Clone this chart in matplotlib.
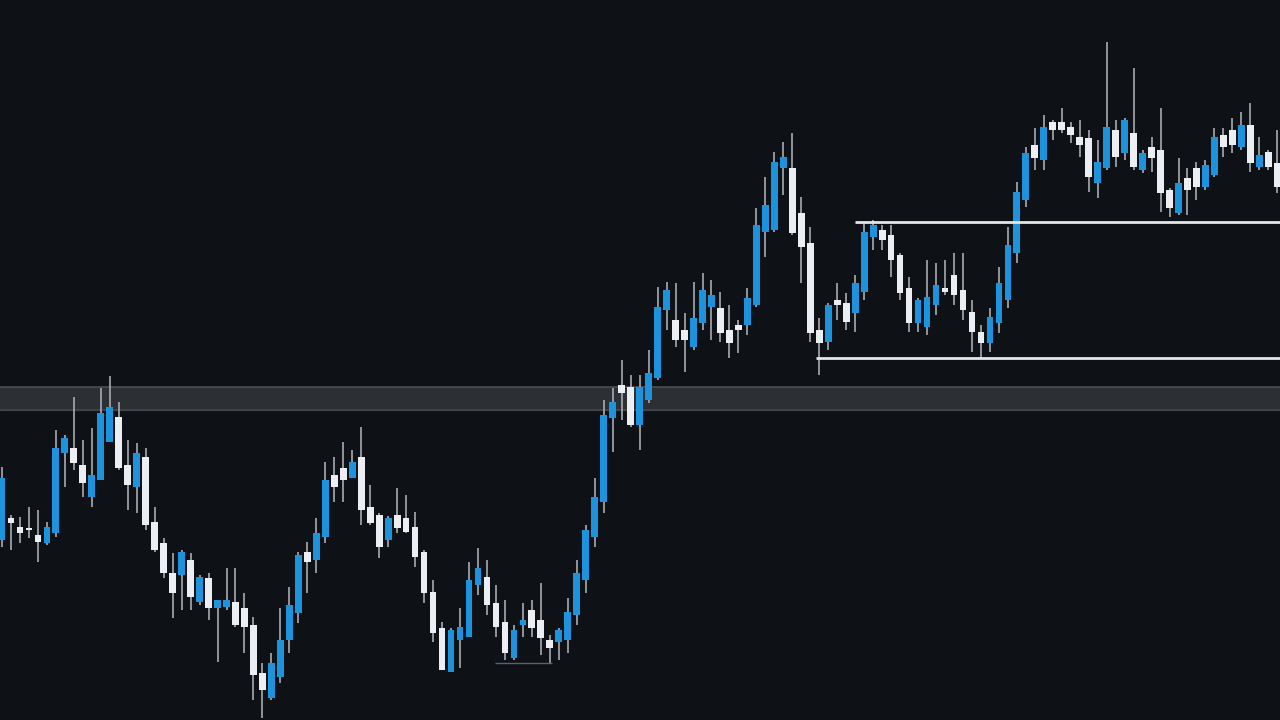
import matplotlib.pyplot as plt
import numpy as np

# Chandeliers (unite = pixel vers le haut, 0 en bas)
open_ = [180, 202, 193, 192, 185, 177, 187, 267, 272, 255, 223, 240, 278, 303, 255, 233, 263, 198, 177, 147,
         145, 160, 118, 142, 112, 113, 118, 112, 95, 47, 22, 43, 80, 107, 168, 160, 183, 245, 252, 242,
         263, 213, 205, 180, 205, 202, 193, 168, 128, 92, 48, 80, 83, 135, 143, 117, 98, 62, 95, 110,
         100, 80, 78, 80, 105, 140, 183, 218, 302, 335, 333, 295, 320, 342, 410, 400, 390, 373, 397, 413,
         412, 390, 395, 395, 415, 488, 490, 552, 552, 507, 477, 390, 378, 420, 417, 407, 428, 483, 490, 485,
         465, 432, 397, 393, 415, 432, 445, 430, 408, 388, 377, 397, 420, 467, 520, 575, 560, 598, 598, 593,
         583, 582, 537, 552, 590, 567, 587, 550, 573, 570, 530, 507, 542, 552, 533, 545, 585, 590, 573, 595,
         553, 568, 557]
high = [253, 205, 203, 213, 210, 198, 290, 285, 323, 280, 292, 332, 344, 318, 280, 277, 272, 213, 182, 167,
        170, 167, 145, 147, 120, 152, 152, 127, 103, 57, 67, 112, 133, 168, 178, 202, 258, 263, 278, 270,
        293, 235, 207, 204, 232, 225, 208, 170, 140, 98, 92, 112, 158, 172, 160, 135, 120, 95, 117, 120,
        137, 85, 92, 122, 160, 195, 242, 320, 332, 360, 345, 345, 370, 433, 438, 437, 407, 438, 447, 440,
        428, 415, 400, 432, 512, 543, 568, 578, 587, 523, 493, 402, 417, 437, 427, 445, 497, 500, 495, 495,
        467, 443, 422, 460, 457, 460, 467, 467, 420, 395, 412, 453, 493, 538, 573, 592, 605, 600, 612, 598,
        600, 590, 580, 678, 600, 602, 652, 570, 583, 612, 532, 562, 552, 558, 560, 592, 592, 602, 608, 617,
        583, 570, 590]
low = [173, 170, 177, 182, 158, 175, 183, 233, 250, 223, 213, 240, 278, 250, 210, 207, 190, 168, 142, 102,
       110, 110, 115, 100, 58, 110, 93, 67, 20, 2, 20, 37, 67, 97, 127, 147, 177, 218, 218, 242,
       195, 195, 162, 173, 187, 187, 153, 117, 78, 50, 48, 52, 83, 125, 105, 83, 60, 60, 83, 83,
       65, 57, 60, 67, 95, 127, 173, 207, 268, 300, 293, 270, 317, 340, 390, 373, 348, 370, 390, 380,
       378, 362, 367, 385, 413, 463, 488, 525, 485, 437, 378, 345, 370, 400, 390, 388, 420, 470, 470, 443,
       420, 388, 388, 385, 405, 425, 415, 400, 368, 362, 368, 387, 412, 457, 513, 550, 550, 580, 587, 577,
       563, 528, 522, 550, 553, 560, 550, 547, 548, 508, 503, 505, 505, 520, 530, 543, 563, 567, 570, 548,
       550, 550, 527]
close = [242, 197, 187, 190, 178, 193, 272, 282, 257, 237, 245, 307, 313, 252, 235, 267, 195, 170, 147, 127,
         168, 123, 143, 112, 120, 120, 95, 93, 45, 30, 57, 80, 115, 165, 158, 187, 240, 233, 240, 258,
         210, 197, 173, 202, 192, 188, 163, 127, 87, 50, 90, 93, 140, 152, 115, 93, 67, 90, 100, 92,
         82, 72, 90, 108, 147, 190, 223, 305, 318, 327, 295, 333, 347, 413, 430, 380, 380, 402, 430, 425,
         387, 377, 390, 422, 495, 515, 558, 563, 487, 473, 387, 377, 415, 415, 398, 437, 488, 495, 480, 460,
         427, 397, 420, 423, 435, 428, 425, 410, 388, 377, 403, 437, 475, 528, 567, 562, 593, 590, 590, 585,
         575, 543, 558, 593, 563, 600, 553, 567, 562, 527, 512, 537, 530, 533, 555, 583, 573, 575, 595, 557,
         565, 553, 533]

# Niveaux traces sur le graphique
zone_bas, zone_haut = 310, 333          # bande grise
resistance, debut_resistance = 498, 95  # ligne blanche haute
support, debut_support = 362, 90.6      # ligne blanche basse
petit_niveau, petit_debut, petit_fin = 57, 54.9, 61.2

fond = "#0e1116"
bleu = "#1d93de"
blanc = "#eceef1"

o = np.array(open_, dtype=float)
h = np.array(high, dtype=float)
l = np.array(low, dtype=float)
c = np.array(close, dtype=float)
x = np.arange(len(o))
hausse = c >= o

fig = plt.figure(figsize=(12.8, 7.2), dpi=100, facecolor=fond)
ax = fig.add_axes([0, 0, 1, 1])
ax.set_facecolor(fond)

# Bande grise horizontale
ax.axhspan(zone_bas, zone_haut, color="#2c2f34", zorder=1)
ax.axhline(zone_haut, color="#4b4e54", lw=1.2, zorder=1)
ax.axhline(zone_bas, color="#44474c", lw=1.2, zorder=1)

# Meches puis corps
ax.vlines(x, l, h, color="#a8acb2", lw=1.2, zorder=2)
bas = np.minimum(o, c)
hauteur = np.maximum(np.abs(c - o), 2)
couleurs = np.where(hausse, bleu, blanc)
ax.bar(x, hauteur, bottom=bas, width=0.75, color=couleurs, edgecolor="none", zorder=3)

# Lignes de support / resistance
n = len(o)
ax.hlines(resistance, debut_resistance, n + 2, color="#e6e6e6", lw=2.0, zorder=4)
ax.hlines(support, debut_support, n + 2, color="#e6e6e6", lw=2.0, zorder=4)
ax.hlines(petit_niveau, petit_debut, petit_fin, color="#5c6068", lw=1.0, zorder=4)

ax.set_xlim(-0.22, 142.3)
ax.set_ylim(0, 720)
ax.axis("off")

plt.savefig("out.png", dpi=100, facecolor=fond)
